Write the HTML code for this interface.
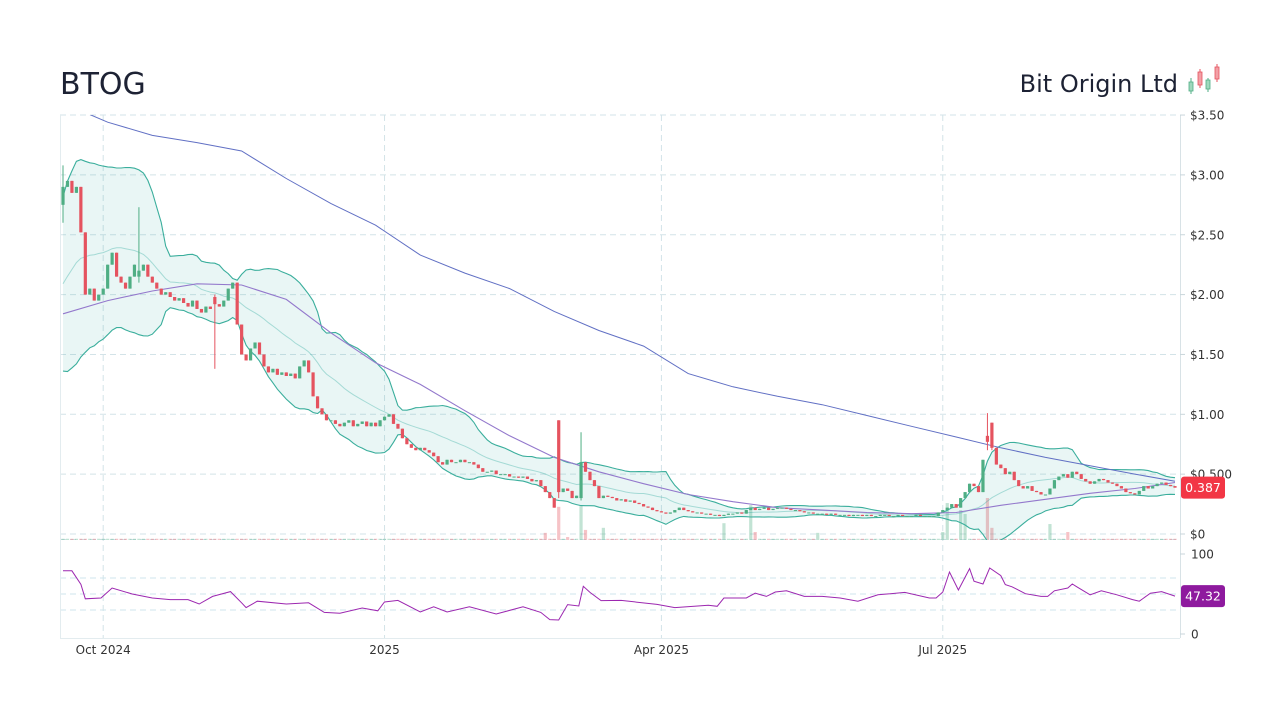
<!DOCTYPE html>
<html><head><meta charset="utf-8"><style>
html,body{margin:0;padding:0;background:#fff;}
svg{display:block;font-family:"DejaVu Sans","Liberation Sans",sans-serif;}
</style></head><body>
<svg id="chart" width="1280" height="720" viewBox="0 0 1280 720">
<text x="60" y="94" font-size="30" fill="#1d2234">BTOG</text>
<text x="1178" y="92" font-size="24" fill="#1d2234" text-anchor="end">Bit Origin Ltd</text>
<g>
<line x1="1191" y1="78" x2="1191" y2="94" stroke="#4fae84"/><rect x="1189" y="82" width="4" height="9" fill="#9fd8bd" stroke="#4fae84" stroke-width="0.8"/>
<line x1="1200" y1="69" x2="1200" y2="88" stroke="#e5535f"/><rect x="1198" y="72" width="4" height="13" fill="#f2a0a6" stroke="#e5535f" stroke-width="0.8"/>
<line x1="1208" y1="78" x2="1208" y2="92" stroke="#4fae84"/><rect x="1206" y="80" width="4" height="9" fill="#9fd8bd" stroke="#4fae84" stroke-width="0.8"/>
<line x1="1217" y1="64" x2="1217" y2="82" stroke="#e5535f"/><rect x="1215" y="67" width="4" height="12" fill="#f2a0a6" stroke="#e5535f" stroke-width="0.8"/>
</g>
<defs><clipPath id="pc"><rect x="60" y="115" width="1120" height="425"/></clipPath>
<clipPath id="rc"><rect x="60" y="541" width="1120" height="97"/></clipPath></defs>
<g id="grid"></g>
<g id="price" clip-path="url(#pc)"></g>
<g id="rsi" clip-path="url(#rc)"></g>
<g id="axes"></g>
</svg>
<script>
const preCloses=[1.7,1.7,1.75,1.8,1.75,1.8,1.85,1.8,1.9,1.95,2.0,2.0,2.1,2.2,2.3,2.4,2.5,2.6,2.8];
const closes=[
2.9,2.95,2.85,2.9,2.52,2.0,2.05,1.95,2.0,2.05,
2.25,2.35,2.15,2.1,2.05,2.15,2.25,2.2,2.25,2.15,
2.1,2.05,2.0,2.02,1.98,1.95,1.97,1.93,1.9,1.95,
1.88,1.85,1.9,1.88,1.92,1.9,1.95,2.05,2.1,1.75,
1.5,1.45,1.55,1.6,1.5,1.4,1.35,1.38,1.33,1.35,
1.32,1.34,1.3,1.4,1.45,1.35,1.15,1.05,1.0,0.95,
0.95,0.92,0.9,0.93,0.95,0.9,0.92,0.94,0.9,0.93,
0.9,0.95,0.98,1.0,0.92,0.88,0.8,0.75,0.72,0.7,
0.72,0.7,0.68,0.65,0.6,0.58,0.62,0.6,0.6,0.62,
0.6,0.6,0.58,0.55,0.52,0.52,0.53,0.5,0.5,0.5,
0.48,0.48,0.47,0.48,0.46,0.44,0.45,0.4,0.35,0.3,
0.22,0.35,0.38,0.36,0.3,0.32,0.6,0.52,0.45,0.4,
0.3,0.32,0.31,0.3,0.28,0.29,0.27,0.28,0.26,0.25,
0.23,0.22,0.2,0.19,0.18,0.17,0.18,0.2,0.22,0.2,
0.19,0.18,0.18,0.17,0.17,0.16,0.16,0.15,0.16,0.17,
0.17,0.18,0.17,0.2,0.22,0.2,0.21,0.22,0.2,0.21,
0.22,0.22,0.21,0.2,0.2,0.19,0.18,0.18,0.17,0.17,
0.17,0.16,0.17,0.16,0.16,0.16,0.15,0.16,0.16,0.15,
0.16,0.15,0.15,0.16,0.16,0.15,0.15,0.16,0.15,0.15,
0.15,0.16,0.15,0.15,0.15,0.15,0.18,0.2,0.22,0.25,
0.22,0.3,0.35,0.42,0.4,0.35,0.62,0.77,0.72,0.58,
0.55,0.5,0.52,0.45,0.4,0.38,0.4,0.36,0.35,0.33,
0.33,0.38,0.45,0.48,0.5,0.47,0.52,0.5,0.46,0.44,
0.42,0.44,0.46,0.45,0.43,0.42,0.4,0.38,0.35,0.34,
0.33,0.36,0.4,0.38,0.4,0.42,0.43,0.41,0.4,0.387];
const ovIdx=[0,17,34,111,116,207,208];
const ovOpen=[2.75,2.15,1.98,0.95,0.3,0.82,0.93];
const ovHigh=[3.08,2.73,2.0,0.95,0.85,1.01,0.93];
const ovLow=[2.6,2.1,1.38,0.3,0.28,0.7,0.7];
const volBase=3;
const volIdx=[108,111,113,116,117,121,148,154,155,169,197,198,201,202,207,208,221,225];
const volVal=[17,79,7,83,24,29,40,83,19,17,19,88,71,62,100,29,38,19];
const smaLongDay=[0,10,20,30,40,50,60,70,80,90,100,110,120,130,140,150,160,170,180,190,200,210,220,230,240,249];
const smaLong=[3.6,3.44,3.33,3.27,3.2,2.97,2.76,2.58,2.33,2.18,2.05,1.86,1.7,1.57,1.34,1.23,1.15,1.08,0.99,0.9,0.81,0.72,0.64,0.57,0.5,0.44];
const smaMid=[1.84,1.95,2.03,2.09,2.08,1.96,1.68,1.43,1.25,1.03,0.82,0.64,0.52,0.42,0.33,0.27,0.22,0.2,0.18,0.17,0.18,0.24,0.29,0.34,0.38,0.43];
const rsiDay=[0,2,4,5,8.5,11,15.5,20,24,28,30.5,33.5,37.5,40,41,43.5,50,55,58.5,62,67,70.5,72,75,80,83,86,91,97,103,107,109,111,113,115.5,116.5,118,120.5,125,133,137,144.5,146.5,148,153,155,157.5,159.5,162,166,170,174,178,182.5,188.5,194,195.5,197,198.5,200.5,203,204,206,207.5,210,211,212.5,215.5,219,220.5,222,225,226,227,230,232.5,236,239.5,241,243.5,246,249];
const rsiVal=[79,79,62,44,45,57.5,50,45,43,43,37.5,47,53,39,33,41,37.5,39,27,26,32.5,29,40,42,27.5,34,27.5,34,25,34,27,18,17.5,36.7,35,59.6,52,41.7,42,37,33,36,34.6,45,45,51,47,52.5,54,47,47,45,41,49,52,45,45,52.5,77.5,55,81.7,66,62.5,82.5,73,61.7,59,50.4,47,47,54,57.5,62.5,59,49,54,49,43,41,51,53,47.32];
const priceTicks=[0,0.5,1,1.5,2,2.5,3,3.5];
const priceTickLabels=["$0","$0.500","$1.00","$1.50","$2.00","$2.50","$3.00","$3.50"];
const dateTickDay=[9,72,134,197];
const dateTickLabels=["Oct 2024","2025","Apr 2025","Jul 2025"];
const rsiTicks=[100,0];
const rsiGrid=[70,50,30];

const NS="http://www.w3.org/2000/svg";
const N=closes.length;
const xD=d=>63+d*(1112/(N-1));
const yP=p=>534-p*119.7;
const yR=v=>634-v*0.8;
const hV=v=>v*0.42;
function mk(tag,attrs,parent){const e=document.createElementNS(NS,tag);for(const k in attrs)e.setAttribute(k,attrs[k]);parent.appendChild(e);return e;}
const grid=document.getElementById('grid'),price=document.getElementById('price'),rsiG=document.getElementById('rsi'),axes=document.getElementById('axes');

priceTicks.forEach(p=>{const l=mk('line',{x1:60,x2:1180,y1:yP(p),y2:yP(p),stroke:'#d3e3e8','stroke-dasharray':'6,4'},grid);

});
mk('line',{x1:60,x2:1180,y1:539.5,y2:539.5,stroke:'#d3e3e8','stroke-dasharray':'6,4'},grid);
dateTickDay.forEach(d=>{const l=mk('line',{x1:xD(d),x2:xD(d),y1:115,y2:638,stroke:'#d3e3e8','stroke-dasharray':'6,4'},grid);

});
rsiGrid.forEach(v=>{const l=mk('line',{x1:60,x2:1180,y1:yR(v),y2:yR(v),stroke:'#cfe6ec','stroke-dasharray':'6,4'},grid);

});
mk('line',{x1:60.5,x2:60.5,y1:115,y2:638,stroke:'#e3ecef'},grid);
mk('line',{x1:60,x2:1180,y1:638.5,y2:638.5,stroke:'#e3ecef'},grid);
mk('line',{x1:1180.5,x2:1180.5,y1:115,y2:638,stroke:'#d8e2e6'},grid);

const opens=[],highs=[],lows=[];
for(let i=0;i<N;i++){let o=i===0?preCloses[preCloses.length-1]:closes[i-1];let h=Math.max(o,closes[i]),lo=Math.min(o,closes[i]);
const k=ovIdx.indexOf(i);if(k>=0){o=ovOpen[k];h=Math.max(ovHigh[k],o,closes[i]);lo=Math.min(ovLow[k],o,closes[i]);}
opens.push(o);highs.push(h);lows.push(lo);}

for(let i=0;i<N;i++){const k=volIdx.indexOf(i);const v=k>=0?volVal[k]:volBase;const up=closes[i]>=opens[i];
const r=mk('rect',{x:xD(i)-1.6,y:540-hV(v),width:3.2,height:hV(v),fill:up?'rgba(79,174,132,0.35)':'rgba(229,83,95,0.35)'},price);

}

const full=preCloses.concat(closes);const P=preCloses.length;
const up=[],lo=[],mid=[];
for(let i=0;i<N;i++){const w=full.slice(i+P-19,i+P+1);const m=w.reduce((a,b)=>a+b,0)/w.length;const sd=Math.sqrt(w.reduce((a,b)=>a+(b-m)*(b-m),0)/w.length);
mid.push(m);up.push(m+2*sd);lo.push(m-2*sd);}
let dFill='';for(let i=0;i<N;i++)dFill+=(i?'L':'M')+xD(i).toFixed(1)+','+yP(up[i]).toFixed(1);
for(let i=N-1;i>=0;i--)dFill+='L'+xD(i).toFixed(1)+','+yP(lo[i]).toFixed(1);
const bf=mk('path',{d:dFill+'Z',fill:'rgba(38,166,154,0.1)',stroke:'none'},price);


function line(vals,days,yf,attrs,name,parent){let d='';vals.forEach((v,i)=>{d+=(i?'L':'M')+xD(days?days[i]:i).toFixed(1)+','+yf(v).toFixed(1);});
const p=mk('path',Object.assign({d:d,fill:'none'},attrs),parent);

return p;}
line(up,null,yP,{stroke:'#3aae9c','stroke-width':1.1},'bollinger-upper',price);
line(lo,null,yP,{stroke:'#3aae9c','stroke-width':1.1},'bollinger-lower',price);
line(mid,null,yP,{stroke:'rgba(38,166,154,0.35)','stroke-width':1},'bollinger-middle',price);
line(smaLong,smaLongDay,yP,{stroke:'#6170c4','stroke-width':1},'sma-long',price);
line(smaMid,smaLongDay,yP,{stroke:'#9378cc','stroke-width':1.1},'sma-mid',price);

for(let i=0;i<N;i++){const o=opens[i],c=closes[i],isUp=c>=o,col=isUp?'#4fae84':'#e5535f';const x=xD(i);
const g=mk('g',{},price);


mk('line',{x1:x,x2:x,y1:yP(highs[i]),y2:yP(lows[i]),stroke:col,'stroke-width':1},g);
const t=yP(Math.max(o,c)),b=yP(Math.min(o,c));
mk('rect',{x:x-1.6,y:t,width:3.2,height:Math.max(1,b-t),fill:col},g);}

line(rsiVal,rsiDay,yR,{stroke:'#9c27b0','stroke-width':1},'rsi-line',rsiG);

priceTicks.forEach((p,i)=>{const t=mk('text',{x:1190,y:yP(p)+4.5,'font-size':12,fill:'#333'},axes);t.textContent=priceTickLabels[i];


mk('line',{x1:1180,x2:1185,y1:yP(p),y2:yP(p),stroke:'#c9d6db'},axes);});
rsiTicks.forEach(v=>{const t=mk('text',{x:1191,y:yR(v)+4.5,'font-size':12,fill:'#333'},axes);t.textContent=String(v);


mk('line',{x1:1180,x2:1185,y1:yR(v),y2:yR(v),stroke:'#c9d6db'},axes);});
dateTickDay.forEach((d,i)=>{const t=mk('text',{x:xD(d),y:654,'font-size':12,fill:'#333','text-anchor':'middle'},axes);t.textContent=dateTickLabels[i];

});
const last=closes[N-1];
const lr=mk('rect',{x:1181,y:yP(last)-11,width:44,height:22,rx:3,fill:'#f23645'},axes);


const lt=mk('text',{x:1203,y:yP(last)+4.5,'font-size':12.5,fill:'#fff','text-anchor':'middle'},axes);lt.textContent=last.toFixed(3);


const lastR=rsiVal[rsiVal.length-1];
const rr=mk('rect',{x:1181,y:yR(lastR)-11,width:44,height:22,rx:3,fill:'#8e1a9e'},axes);


const rt=mk('text',{x:1203,y:yR(lastR)+4.5,'font-size':12.5,fill:'#fff','text-anchor':'middle'},axes);rt.textContent=lastR.toFixed(2);


</script>
</body></html>
